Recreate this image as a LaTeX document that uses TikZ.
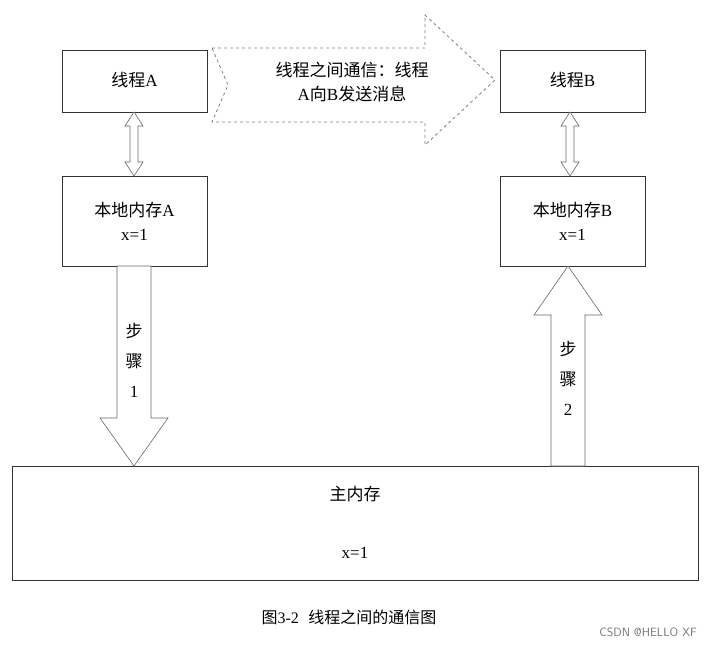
\documentclass[tikz,border=0pt]{standalone}
\usepackage{fontspec}
\setmainfont{Liberation Serif}
\newfontfamily\cjk{Noto Sans CJK SC}
\begin{document}
\begin{tikzpicture}[x=1pt,y=-1pt,
  box/.style={draw=black!80,line width=0.6pt,fill=white},
  tx/.style={font=\fontsize{17}{24}\selectfont,align=center,inner sep=0pt},
  arr/.style={draw=black!60,line width=0.6pt,fill=white}]
\useasboundingbox (0,0) rectangle (718,646);
\draw[box] (62,50) rectangle (207,112) coordinate (ta);
\node[tx] (tA) at (134.5,80) {{\cjk 线程}A};
\draw[box] (500,50) rectangle (645,112);
\node[tx] (tB) at (572.5,80) {{\cjk 线程}B};
\draw[box] (62,176) rectangle (207,266);
\node[tx] (mA) at (134.5,221) {{\cjk 本地内存}A\\x=1};
\draw[box] (500,176) rectangle (645,266);
\node[tx] (mB) at (572.5,221) {{\cjk 本地内存}B\\x=1};
\draw[box] (12,466) rectangle (698,580);
\node[tx] (main) at (355,494) {\cjk 主内存};
\node[tx] (mx) at (355,553) {x=1};
% double arrows
\foreach \c in {134,570}{
\draw[arr] (\c,112) -- (\c+9,126) -- (\c+4,126) -- (\c+4,162) -- (\c+9,162) -- (\c,176) -- (\c-9,162) -- (\c-4,162) -- (\c-4,126) -- (\c-9,126) -- cycle;}
% dashed big arrow
\draw[draw=black!50,dashed,line width=0.8pt,fill=white] (212,48) -- (425,48) -- (425,15) -- (495,80) -- (425,145) -- (425,122) -- (212,122) -- (228,85) -- cycle;
\node[tx] (msg) at (352,82) {{\cjk 线程之间通信：线程}\\A{\cjk 向}B{\cjk 发送消息}};
% step arrows
\draw[arr] (117,266) -- (151,266) -- (151,418) -- (168,418) -- (134,466) -- (100,418) -- (117,418) -- cycle;
\node[tx,font=\fontsize{17}{30}\selectfont] (s1) at (134,360) {\cjk 步\\\cjk 骤\\1};
\draw[arr] (551,466) -- (585,466) -- (585,315) -- (602,315) -- (568,266) -- (534,315) -- (551,315) -- cycle;
\node[tx,font=\fontsize{17}{30}\selectfont] (s2) at (568,378) {\cjk 步\\\cjk 骤\\2};
\node[tx,font=\fontsize{16}{20}\selectfont] (cap) at (349,617) {{\cjk 图}3-2\hspace{0.6em}{\cjk 线程之间的通信图}};
\node[font=\fontsize{12}{14}\selectfont\sffamily,text=black!55,inner sep=0pt] (csdn) at (648,632) {CSDN @HELLO XF};
\end{tikzpicture}
\end{document}
